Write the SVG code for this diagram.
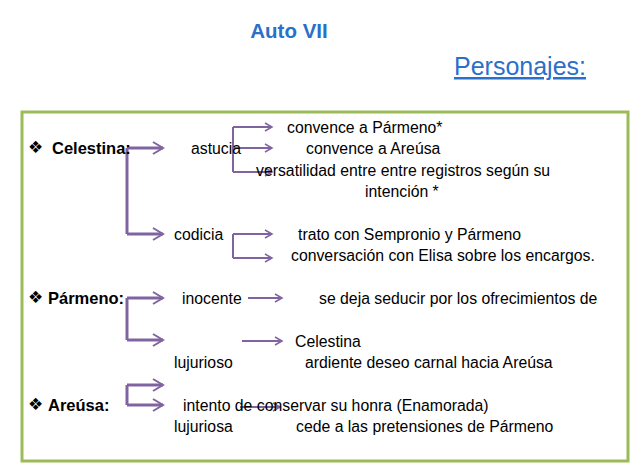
<svg xmlns="http://www.w3.org/2000/svg" width="640" height="471" viewBox="0 0 640 471">
<defs>
<marker id="ah" markerWidth="10" markerHeight="10" refX="8" refY="5" orient="auto" markerUnits="userSpaceOnUse">
<path d="M1,1 L8,5 L1,9" fill="none" stroke="#8064a2" stroke-width="1.5"/>
</marker>
<marker id="ahb" markerWidth="14" markerHeight="14" refX="11" refY="7" orient="auto" markerUnits="userSpaceOnUse">
<path d="M1,1 L11,7 L1,13" fill="none" stroke="#8064a2" stroke-width="2"/>
</marker>
<style>
.t{font-family:"Liberation Sans",Arial,sans-serif;font-size:15.8px;fill:#000}
.b{font-family:"Liberation Sans",Arial,sans-serif;font-size:16.5px;font-weight:bold;fill:#000}
.d{font-family:"DejaVu Sans",sans-serif;font-size:17px;font-weight:normal}
.s{fill:none;stroke:#8064a2;stroke-width:2}
.sb{fill:none;stroke:#8064a2;stroke-width:3}
</style>
</defs>
<rect width="640" height="471" fill="#fff"/>
<text x="289" y="38" text-anchor="middle" font-family="Liberation Sans,Arial,sans-serif" font-size="20.5" font-weight="bold" fill="#2a6fc9">Auto VII</text>
<text x="520" y="75" text-anchor="middle" font-family="Liberation Sans,Arial,sans-serif" font-size="25" fill="#2a6fc9" text-decoration="underline">Personajes:</text>
<rect x="22" y="112" width="606" height="349" fill="none" stroke="#9bbb59" stroke-width="3"/>
<g id="connectors">
<path class="sb" d="M127,148 V234"/>
<path class="sb" d="M127,148 H163" marker-end="url(#ahb)"/>
<path class="sb" d="M127,234 H163" marker-end="url(#ahb)"/>
<path class="s" d="M233,127 V172"/>
<path class="s" d="M233,127 H272" marker-end="url(#ah)"/>
<path class="s" d="M233,148 H272" marker-end="url(#ah)"/>
<path class="s" d="M233,172 H272" marker-end="url(#ah)"/>
<path class="s" d="M233,234 V258"/>
<path class="s" d="M233,234 H272" marker-end="url(#ah)"/>
<path class="s" d="M233,258 H272" marker-end="url(#ah)"/>
<path class="sb" d="M127,298 V340"/>
<path class="sb" d="M127,298 H163" marker-end="url(#ahb)"/>
<path class="sb" d="M127,340 H163" marker-end="url(#ahb)"/>
<path class="s" d="M248,298 H282" marker-end="url(#ah)"/>
<path class="s" d="M242,341 H282" marker-end="url(#ah)"/>
<path class="sb" d="M127,385 V405"/>
<path class="sb" d="M127,385 H163" marker-end="url(#ahb)"/>
<path class="sb" d="M127,405 H163" marker-end="url(#ahb)"/>
<path class="s" d="M240,407 H280" marker-end="url(#ah)"/>
</g>
<g id="celestina">
<text class="b" x="28" y="153"><tspan class="d">❖</tspan><tspan x="52" y="154">Celestina:</tspan></text>
<text class="t" x="191" y="154">astucia</text>
<text class="t" x="287" y="133">convence a Pármeno*</text>
<text class="t" x="306" y="154">convence a Areúsa</text>
<text class="t" x="256" y="176">versatilidad entre entre registros según su</text>
<text class="t" x="365" y="197">intención *</text>
<text class="t" x="174" y="240">codicia</text>
<text class="t" x="298" y="240">trato con Sempronio y Pármeno</text>
<text class="t" x="291" y="261">conversación con Elisa sobre los encargos.</text>
</g>
<g id="parmeno">
<text class="b" x="28" y="303"><tspan class="d">❖</tspan><tspan x="48" y="304">Pármeno:</tspan></text>
<text class="t" x="182" y="304">inocente</text>
<text class="t" x="319" y="304">se deja seducir por los ofrecimientos de</text>
<text class="t" x="295" y="347">Celestina</text>
<text class="t" x="174" y="368">lujurioso</text>
<text class="t" x="305" y="368">ardiente deseo carnal hacia Areúsa</text>
</g>
<g id="areusa">
<text class="b" x="28" y="410"><tspan class="d">❖</tspan><tspan x="48" y="411">Areúsa:</tspan></text>
<text class="t" x="183" y="411">intento de conservar su honra (Enamorada)</text>
<text class="t" x="174" y="432">lujuriosa</text>
<text class="t" x="296" y="432">cede a las pretensiones de Pármeno</text>
</g>
</svg>
